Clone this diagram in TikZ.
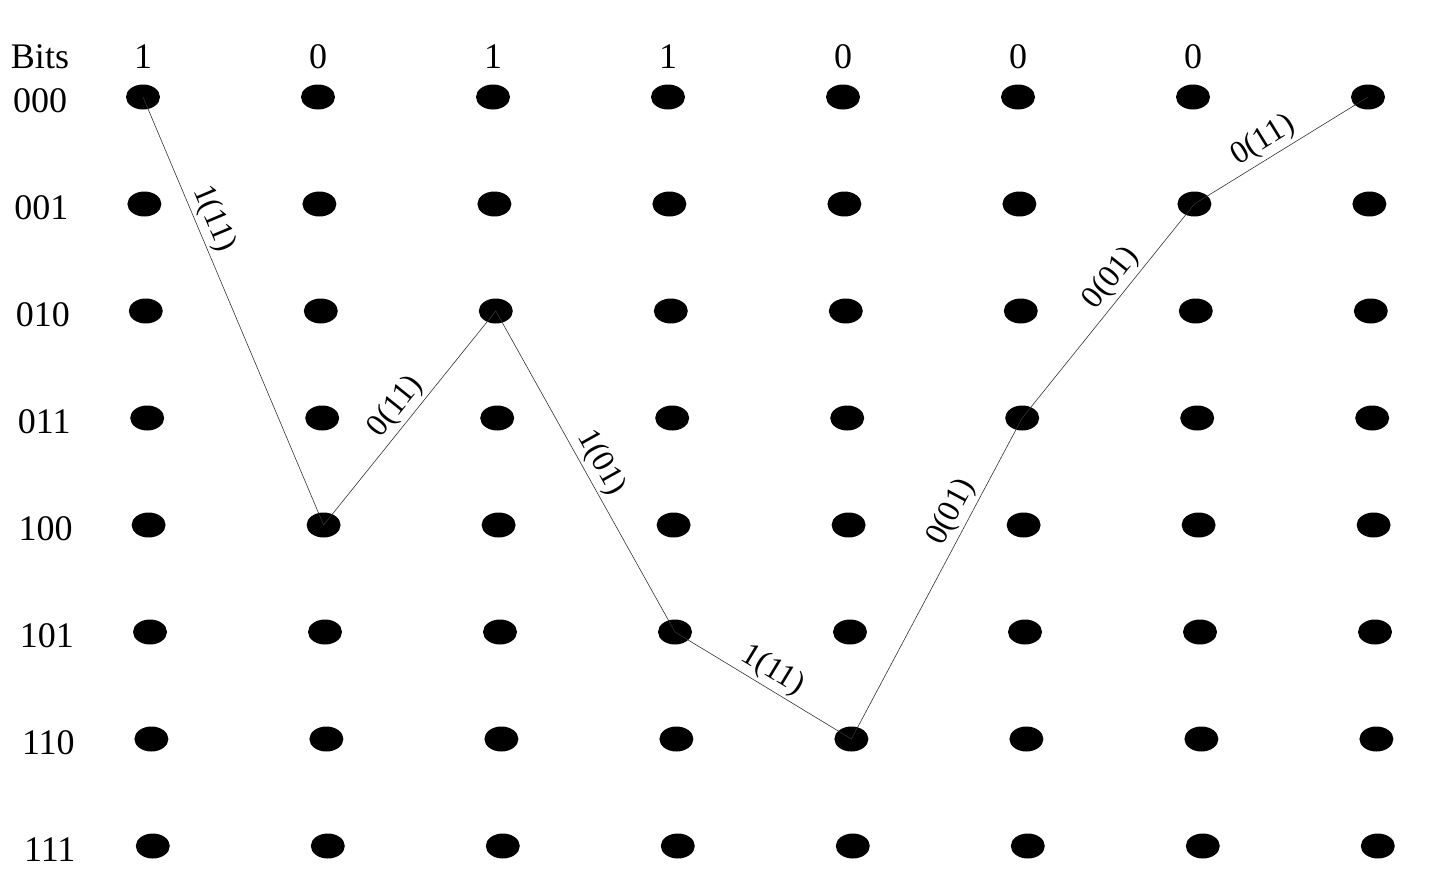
\documentclass[tikz,border=0pt]{standalone}
\usepackage{fontspec}
\setmainfont{Liberation Serif}
\usetikzlibrary{shapes.geometric}
\begin{document}
\begin{tikzpicture}[x=1pt,y=-1pt,
  dot/.style={ellipse,fill=black,minimum width=34pt,minimum height=25pt,inner sep=0pt},
  lab/.style={font=\fontsize{36}{36}\selectfont},
  elab/.style={font=\fontsize{32}{32}\selectfont,sloped,inner sep=3pt},
  edge/.style={draw=black!80,line width=0.6pt}]
\useasboundingbox (0,0) rectangle (1430,870);
\foreach \c in {0,...,7}{
  \foreach \r in {0,...,7}{
    \node[dot] (n\c\r) at ({143+\c*175+\r*1.4},{97+\r*107}) {};
  }
}
\node[lab] (bits) at (40,57) {Bits};
\foreach \b [count=\i from 0] in {1,0,1,1,0,0,0}{
  \node[lab] (b\i) at ({143+\i*175},57) {\b};
}
\foreach \t [count=\r from 0] in {000,001,010,011,100,101,110,111}{
  \node[lab] (r\r) at ({40+\r*1.4},{101+\r*107}) {\t};
}
\draw[edge] (n00.center) -- node[elab,above,pos=0.3] {1(11)} (n14.center)
  -- node[elab,above,pos=0.5] {0(11)} (n22.center)
  -- node[elab,above,pos=0.5] {1(01)} (n35.center)
  -- node[elab,above,pos=0.5] {1(11)} (n46.center)
  -- node[elab,above,pos=0.68] {0(01)} (n53.center)
  -- node[elab,above,pos=0.6] {0(01)} (n61.center)
  -- node[elab,above,pos=0.45] {0(11)} (n70.center);
\end{tikzpicture}
\end{document}
